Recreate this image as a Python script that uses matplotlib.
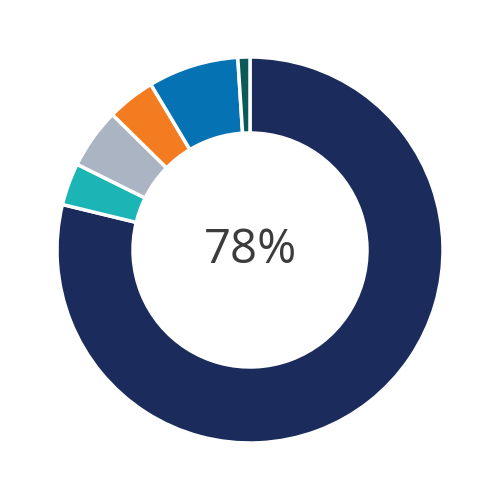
import matplotlib
matplotlib.use("Agg")
import matplotlib.pyplot as plt

# valores das fatias (sentido horário a partir do topo)
labels = ["A", "B", "C", "D", "E", "F"]
values = [78.0, 3.5, 5.0, 4.0, 7.5, 1.0]
colors = ["#1b2b5b", "#1bb5b5", "#aab4c2", "#f47c20", "#0573b3", "#0b5a5a"]
center_text = "78%"

fig = plt.figure(figsize=(5, 5), dpi=100)
ax = fig.add_axes([0, 0, 1, 1])
ax.pie(values, colors=colors, startangle=90, counterclock=False,
       radius=0.772,
       wedgeprops=dict(width=0.304, edgecolor="white", linewidth=2.5))
ax.text(0, 0, center_text, ha="center", va="center", fontsize=34,
        color="#3c3c3c", fontfamily="Open Sans")
ax.set_xlim(-1, 1)
ax.set_ylim(-1, 1)
ax.set_aspect("equal")
ax.axis("off")
fig.savefig("out.png", dpi=100)
